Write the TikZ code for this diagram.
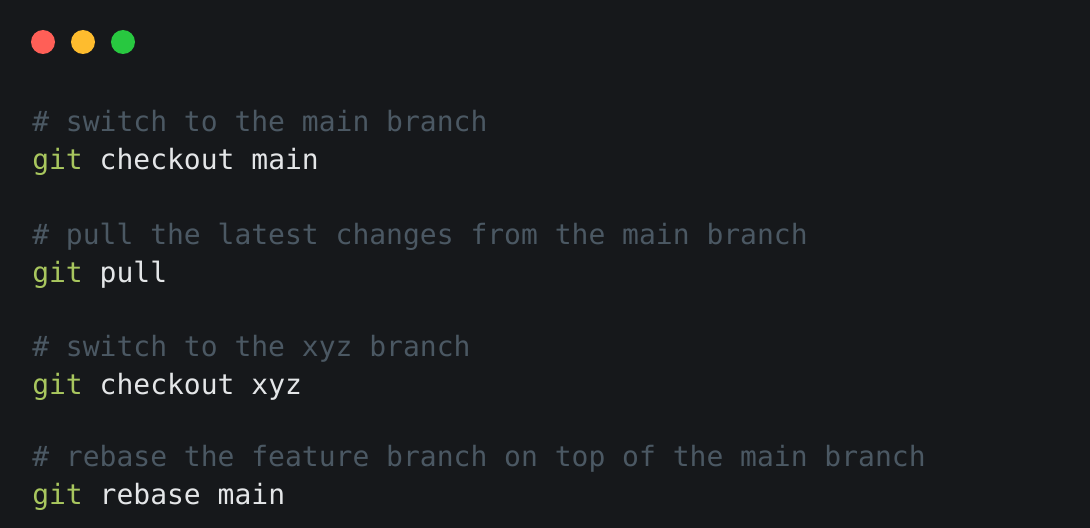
\documentclass[tikz,border=0pt]{standalone}
\usepackage{fontspec}
\setmonofont{DejaVu Sans Mono}
\definecolor{bg}{HTML}{16181B}
\definecolor{cmt}{HTML}{4B5863}
\definecolor{kw}{HTML}{A8C65E}
\definecolor{txt}{HTML}{E4E6E8}
\begin{document}
\begin{tikzpicture}[x=0.75pt,y=-0.75pt,
  code/.style={anchor=base west,inner sep=0pt,font=\fontsize{21}{21}\selectfont\ttfamily},
  dot/.style={circle,minimum size=18pt,inner sep=0pt}]
\fill[bg] (0,0) rectangle (1090,528);
\useasboundingbox (0,0) rectangle (1090,528);
\node[dot,fill={rgb,255:red,255;green,95;blue,87}] (r) at (43,42) {};
\node[dot,fill={rgb,255:red,254;green,188;blue,46}] (y) at (83,42) {};
\node[dot,fill={rgb,255:red,40;green,200;blue,64}] (g) at (123,42) {};
\node[code,text=cmt] (c1) at (32,132) {\# switch to the main branch};
\node[code] (l1) at (32,170) {\textcolor{kw}{git} \textcolor{txt}{checkout main}};
\node[code,text=cmt] (c2) at (32,244) {\# pull the latest changes from the main branch};
\node[code] (l2) at (32,282) {\textcolor{kw}{git} \textcolor{txt}{pull}};
\node[code,text=cmt] (c3) at (32,356) {\# switch to the xyz branch};
\node[code] (l3) at (32,394) {\textcolor{kw}{git} \textcolor{txt}{checkout xyz}};
\node[code,text=cmt] (c4) at (32,466) {\# rebase the feature branch on top of the main branch};
\node[code] (l4) at (32,504) {\textcolor{kw}{git} \textcolor{txt}{rebase main}};
\end{tikzpicture}
\end{document}
